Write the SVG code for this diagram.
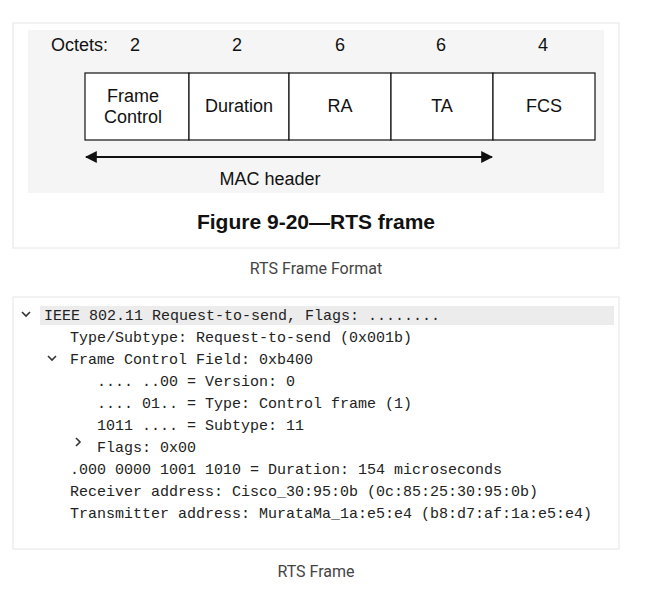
<svg xmlns="http://www.w3.org/2000/svg" width="646" height="590" viewBox="0 0 646 590">
<style>
.s{font-family:"Liberation Sans",Arial,sans-serif;fill:#111;font-size:18px}
.m{font-family:"Liberation Mono","DejaVu Sans Mono",monospace;font-size:15px;fill:#222;white-space:pre}
.cap{font-family:Roboto,"Liberation Sans",sans-serif;font-size:16px;fill:#444;text-anchor:middle}
.c{fill:none;stroke:#333;stroke-width:1.6}
</style>
<defs><marker id="a" viewBox="0 0 10 10" refX="9" refY="5" markerWidth="6" markerHeight="6" orient="auto-start-reverse"><path d="M0,0L10,5L0,10z" fill="#111"/></marker></defs>
<rect x="13" y="23" width="606" height="225" fill="#fff" stroke="#e6e6e6"/>
<rect x="28" y="30" width="576" height="163" fill="#f5f5f5"/>
<g class="s">
<text x="51" y="51">Octets:</text>
<text x="135" y="51" text-anchor="middle">2</text><text x="237" y="51" text-anchor="middle">2</text><text x="340" y="51" text-anchor="middle">6</text><text x="441" y="51" text-anchor="middle">6</text><text x="543" y="51" text-anchor="middle">4</text>
</g>
<g id="fc"><rect x="85" y="73" width="104" height="67" fill="#fff" stroke="#111" stroke-width="1.2"/><text class="s" x="133" y="102" text-anchor="middle">Frame</text><text class="s" x="133" y="123" text-anchor="middle">Control</text></g>
<g id="dur"><rect x="189" y="73" width="100" height="67" fill="#fff" stroke="#111" stroke-width="1.2"/><text class="s" x="239" y="112" text-anchor="middle">Duration</text></g>
<g id="ra"><rect x="289" y="73" width="102" height="67" fill="#fff" stroke="#111" stroke-width="1.2"/><text class="s" x="340" y="112" text-anchor="middle">RA</text></g>
<g id="ta"><rect x="391" y="73" width="102" height="67" fill="#fff" stroke="#111" stroke-width="1.2"/><text class="s" x="442" y="112" text-anchor="middle">TA</text></g>
<g id="fcs"><rect x="493" y="73" width="102" height="67" fill="#fff" stroke="#111" stroke-width="1.2"/><text class="s" x="544" y="112" text-anchor="middle">FCS</text></g>
<g id="connectors"><line x1="86" y1="157" x2="492" y2="157" stroke="#111" stroke-width="2" marker-start="url(#a)" marker-end="url(#a)"/></g>
<text class="s" x="270" y="185" text-anchor="middle" fill="#222">MAC header</text>
<text x="316" y="229" text-anchor="middle" font-family="Liberation Sans,Arial,sans-serif" font-weight="bold" font-size="21" fill="#111">Figure 9-20—RTS frame</text>
<text class="cap" x="316" y="274">RTS Frame Format</text>
<rect x="13" y="297" width="606" height="252" fill="#fff" stroke="#e6e6e6"/>
<rect x="40" y="306" width="574" height="19" fill="#ececec"/>
<path class="c" d="M22,312l4,4l4,-4"/>
<path class="c" d="M48,356l4,4l4,-4"/>
<path class="c" d="M76,438l4,4l-4,4" stroke="#888"/>
<text class="m" x="44" y="320">IEEE 802.11 Request-to-send, Flags: ........</text>
<text class="m" x="70" y="342">Type/Subtype: Request-to-send (0x001b)</text>
<text class="m" x="70" y="364">Frame Control Field: 0xb400</text>
<text class="m" x="97" y="386">.... ..00 = Version: 0</text>
<text class="m" x="97" y="408">.... 01.. = Type: Control frame (1)</text>
<text class="m" x="97" y="430">1011 .... = Subtype: 11</text>
<text class="m" x="97" y="452">Flags: 0x00</text>
<text class="m" x="70" y="474">.000 0000 1001 1010 = Duration: 154 microseconds</text>
<text class="m" x="70" y="496">Receiver address: Cisco_30:95:0b (0c:85:25:30:95:0b)</text>
<text class="m" x="70" y="518">Transmitter address: MurataMa_1a:e5:e4 (b8:d7:af:1a:e5:e4)</text>
<text class="cap" x="316" y="577">RTS Frame</text>
</svg>
